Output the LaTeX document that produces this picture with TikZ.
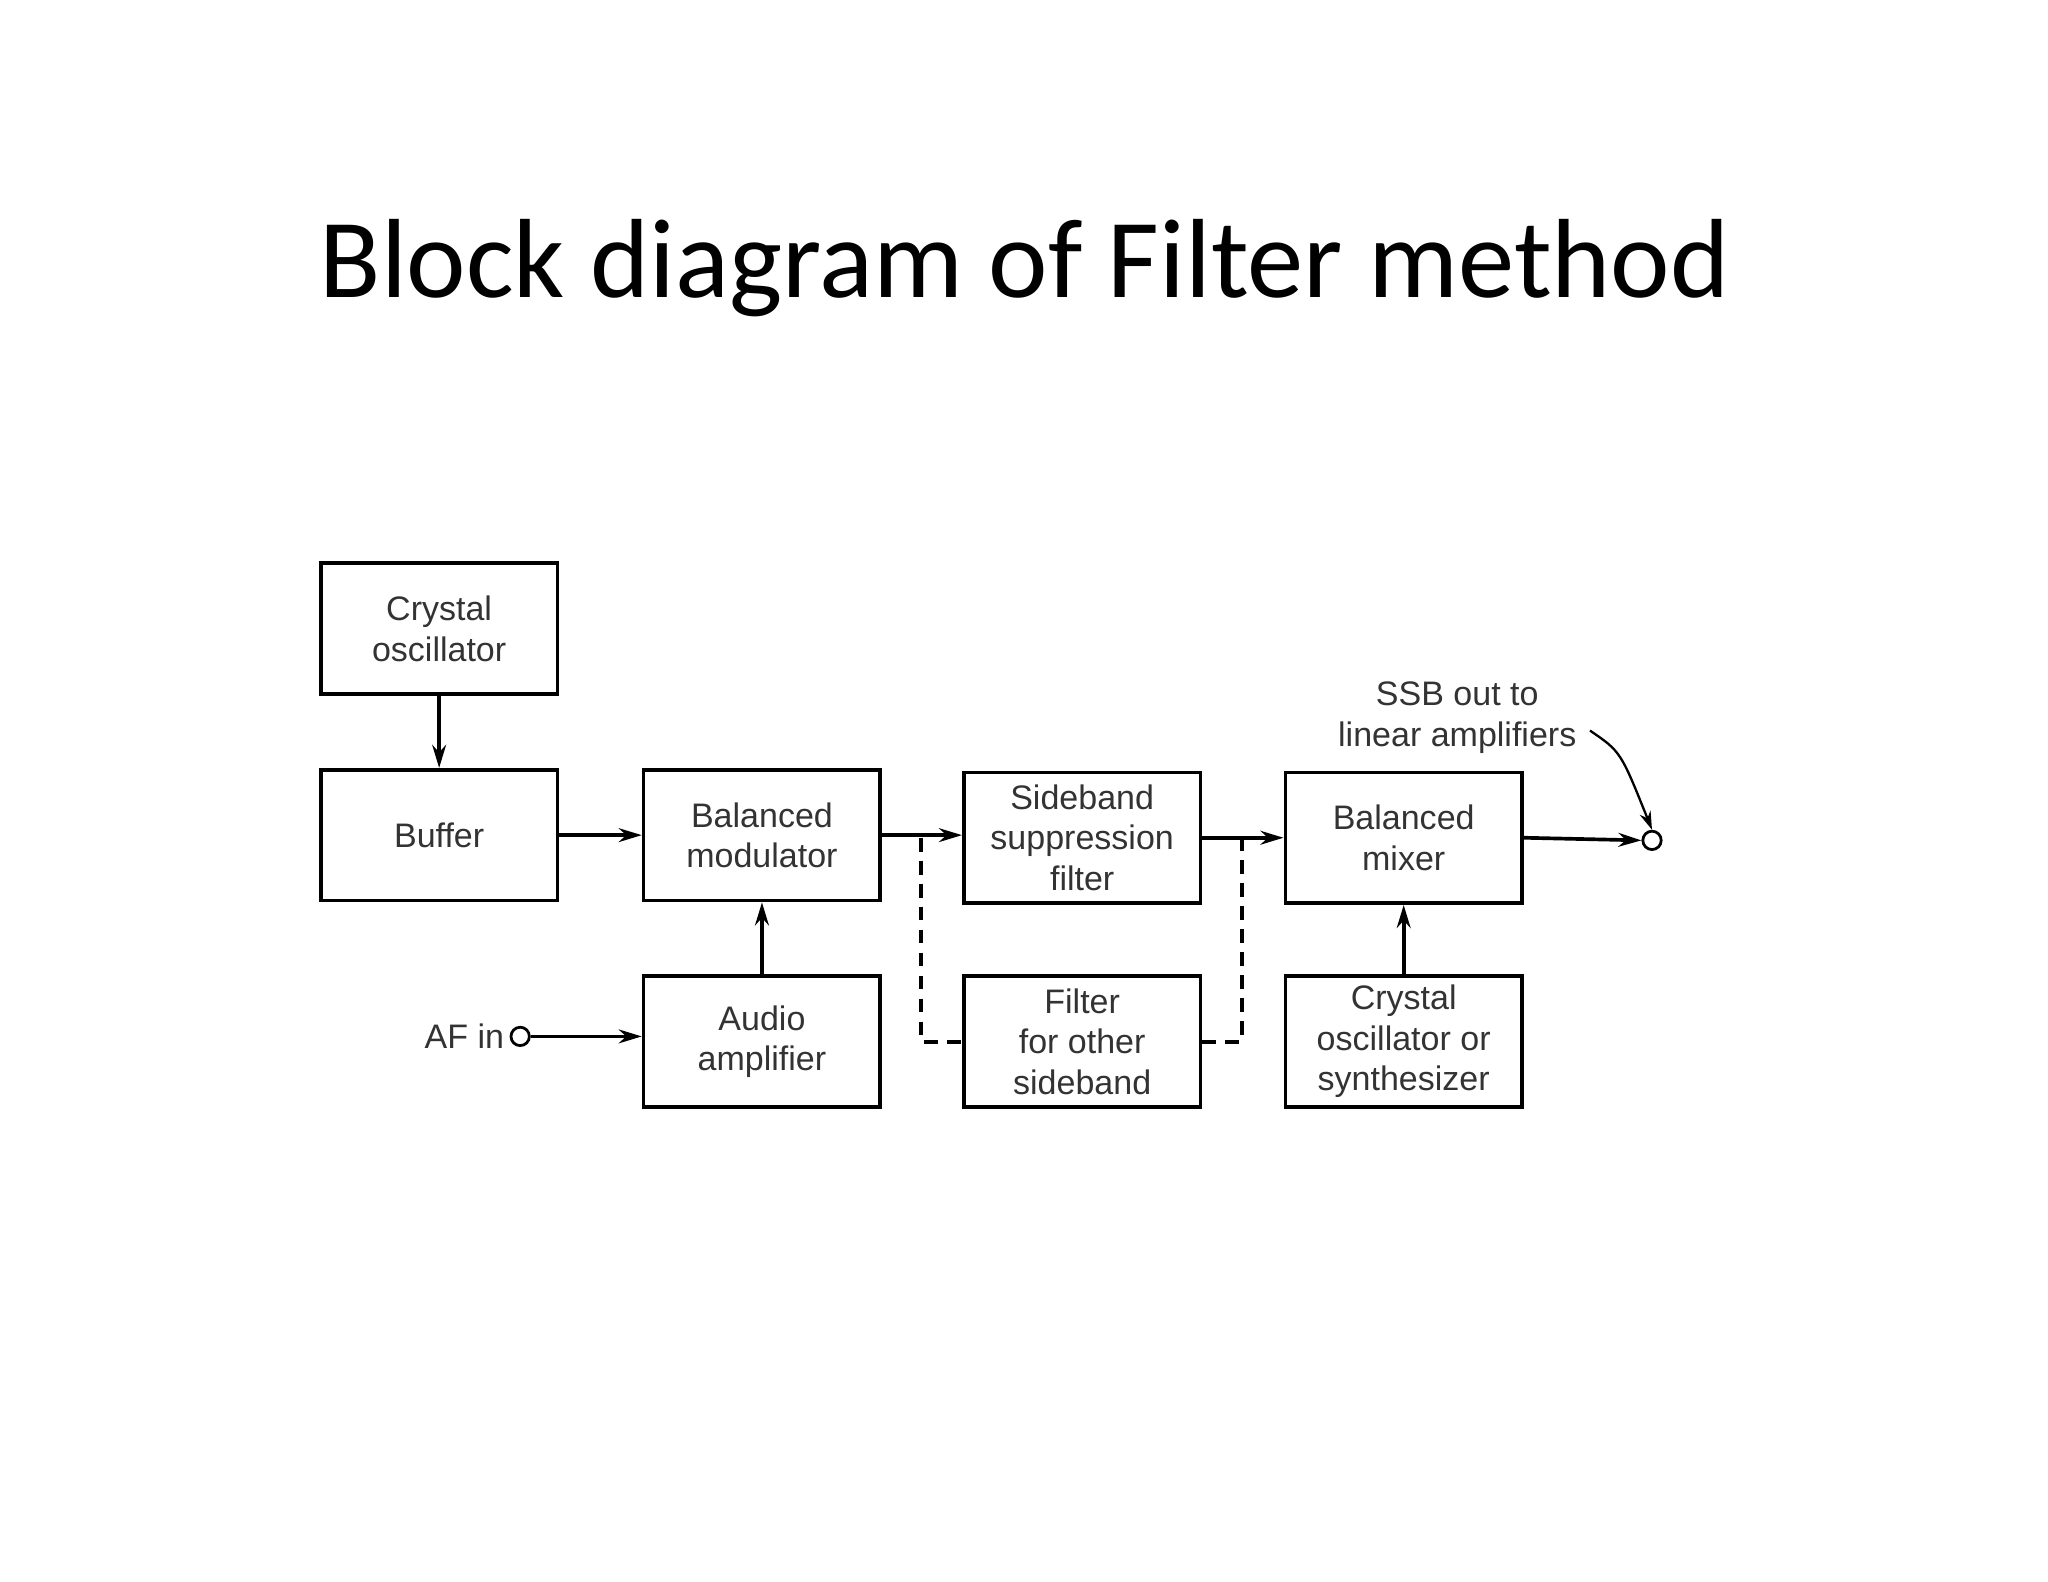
\documentclass[tikz,border=0pt]{standalone}
\usepackage{fontspec}
\setmainfont{Liberation Sans}
\newfontfamily\titlefont{Carlito}
\usetikzlibrary{arrows.meta}
\begin{document}
\begin{tikzpicture}[x=0.01cm,y=-0.01cm,
  blk/.style={draw,line width=0.8pt,minimum width=1.81cm,minimum height=1.0cm,align=center,font=\fontsize{7.4}{8.8}\selectfont,text=black!80,inner sep=1pt},
  arr/.style={line width=0.8pt,-{Stealth[length=5pt,width=3pt]}},
  dsh/.style={line width=0.9pt,dash pattern=on 3pt off 2pt},
  term/.style={circle,draw,line width=0.6pt,minimum size=4pt,inner sep=0pt}]
\useasboundingbox (0,0) rectangle (1567,1210);
\node[font=\titlefont\fontsize{24.5}{28}\selectfont] (title) at (784,205) {Block diagram of Filter method};
\node[blk] (xo) at (336,481) {Crystal\\oscillator};
\node[blk] (buf) at (336,639) {Buffer};
\node[blk] (bm) at (583,639) {Balanced\\modulator};
\node[blk] (ssf) at (828,641) {Sideband\\suppression\\filter};
\node[blk] (mix) at (1074,641) {Balanced\\mixer};
\node[blk] (aa) at (583,797) {Audio\\amplifier};
\node[blk] (fos) at (828,797) {Filter\\for other\\sideband};
\node[blk] (syn) at (1074,797) {Crystal\\oscillator or\\synthesizer};
\node[term] (af) at (398,793) {};
\node[anchor=east,font=\fontsize{7.4}{8.8}\selectfont,text=black!80,inner sep=1pt] (aflbl) at (af.west) {AF in};
\node[term] (out) at (1264,643) {};
\node[align=center,font=\fontsize{7.4}{8.8}\selectfont,text=black!80] (ssb) at (1115,549) {SSB out to\\linear amplifiers};
\draw[arr] (xo) -- (buf);
\draw[arr] (buf) -- (bm);
\draw[arr] (bm.east) -- (ssf.west |- bm.east);
\draw[arr] (ssf.east |- mix.west) -- (mix.west);
\draw[arr] (mix.east) -- (out.west);
\draw[arr] (aa) -- (bm);
\draw[arr] (syn) -- (mix);
\draw[arr] (af.east) -- (aa.west |- af.east);
\coordinate (d1) at (705,641);
\coordinate (d2) at (950,641);
\draw[dsh] (d1) -- (d1 |- fos.west) -- (fos.west);
\draw[dsh] (fos.east) -- (d2 |- fos.east) -- (d2);
\draw[line width=0.5pt,-{Stealth[length=4pt,width=2.5pt]}] (ssb.east) ++(-2,10) .. controls (1240,575) .. (out.north);
\end{tikzpicture}
\end{document}
